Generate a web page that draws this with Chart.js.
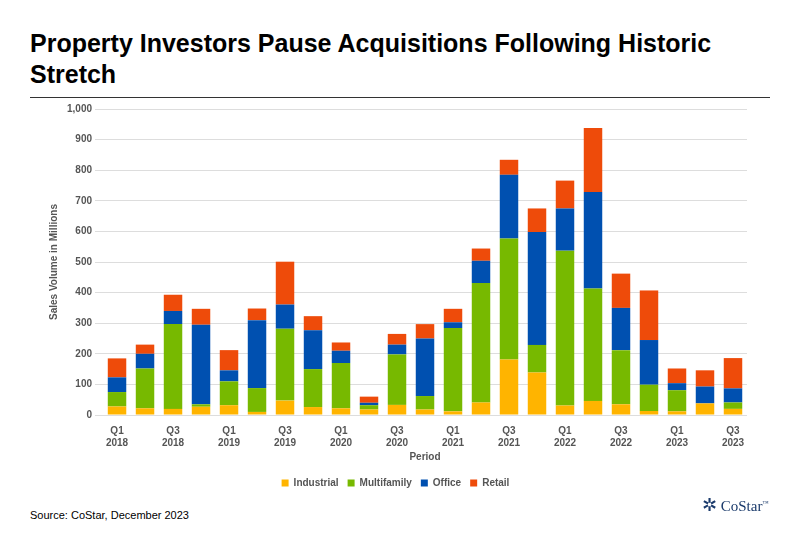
<!DOCTYPE html>
<html><head><meta charset="utf-8">
<script src="https://cdn.jsdelivr.net/npm/chart.js@4"></script>
<style>
body{margin:0;width:800px;height:533px;background:#fff;font-family:Arial,"Liberation Sans",sans-serif;position:relative;overflow:hidden}
#t{position:absolute;left:30px;top:28px;font-size:25px;font-weight:bold;line-height:31px;color:#000}
#rule{position:absolute;left:30px;top:97px;width:740px;height:1px;background:#333}
#c{position:absolute;left:0;top:100px}
#src{position:absolute;left:30px;top:509px;font-size:11px;color:#000}
#logo{position:absolute;left:702px;top:494px;font-size:15px;color:#1a3a6b;font-family:"Liberation Serif",serif}
</style></head><body>
<div id="t">Property Investors Pause Acquisitions Following Historic<br>Stretch</div>
<div id="rule"></div>
<canvas id="c" width="800" height="400"></canvas>
<div id="src">Source: CoStar, December 2023</div>
<div id="logo"><span style="color:#1a3a6b;font-size:18px">✲</span> CoStar<sup style="font-size:6px">™</sup></div>
<script>
const categories=[["Q1","2018"],"",["Q3","2018"],"",["Q1","2019"],"",["Q3","2019"],"",["Q1","2020"],"",["Q3","2020"],"",["Q1","2021"],"",["Q3","2021"],"",["Q1","2022"],"",["Q3","2022"],"",["Q1","2023"],"",["Q3","2023"]];
const industrial=[28,22,20,27,32,10,47,26,22,18,33,18,12,41,181,139,31,46,35,13,12,38,20];
const multifamily=[47,130,277,8,78,78,235,124,148,14,165,44,272,390,396,90,506,367,177,86,69,0,21];
const office=[48,48,43,260,36,222,79,127,40,8,32,188,19,73,208,369,138,316,138,146,23,55,46];
const retail=[62,30,53,52,66,38,140,46,27,20,35,47,44,40,49,77,91,209,112,162,48,53,99];
const yTicks=[0,100,200,300,400,500,600,700,800,900,1000];
const mk=(l,d,c)=>({label:l,data:d,backgroundColor:c,borderWidth:0,barPercentage:0.66,categoryPercentage:1});
new Chart(document.getElementById('c'),{type:'bar',
data:{labels:categories,datasets:[mk('Industrial',industrial,'#FFB400'),mk('Multifamily',multifamily,'#77B900'),mk('Office',office,'#0050B0'),mk('Retail',retail,'#EE4B0A')]},
options:{responsive:false,animation:false,
layout:{padding:{left:44,right:53,top:6,bottom:2}},
plugins:{legend:{position:'bottom',labels:{boxWidth:7,boxHeight:7,font:{size:10,weight:'bold'},color:'#555',padding:9}},tooltip:{enabled:false}},
scales:{x:{stacked:true,grid:{display:false},border:{display:false},ticks:{maxRotation:0,autoSkip:false,padding:2,font:{size:10,weight:'bold'},color:'#555'},
 title:{display:true,text:'Period',font:{size:10,weight:'bold'},color:'#555',padding:{top:0,bottom:6}}},
y:{stacked:true,min:0,max:1000,afterBuildTicks:a=>{a.ticks=yTicks.map(v=>({value:v}));},grid:{color:'#ddd'},border:{display:false},
 ticks:{font:{size:10,weight:'bold'},color:'#555',callback:v=>v.toLocaleString('en-US')},
 title:{display:true,text:'Sales Volume in Millions',font:{size:10,weight:'bold'},color:'#555'}}}}});
</script></body></html>
